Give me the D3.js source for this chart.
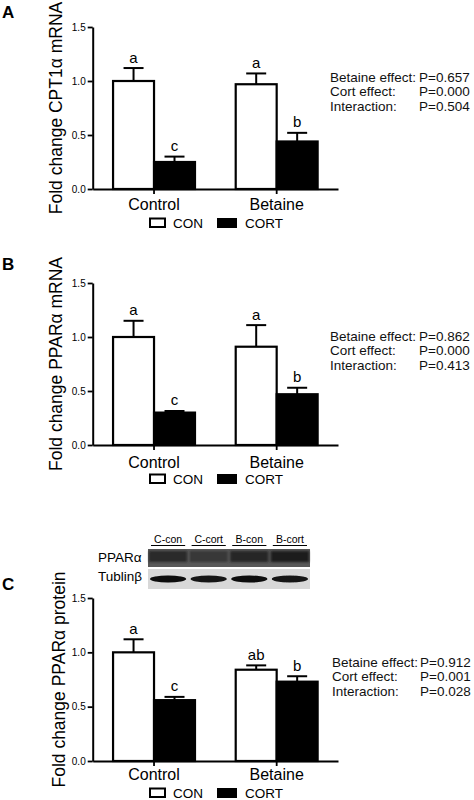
<!DOCTYPE html>
<html>
<head>
<meta charset="utf-8">
<script src="https://cdn.jsdelivr.net/npm/d3@7"></script>
<style>
  body { margin: 0; background: #fff; }
  svg { display: block; font-family: "Liberation Sans", Arial, sans-serif; }
</style>
</head>
<body>
<div id="chart"></div>
<script>
// groups on the x axis and the two treatments inside each group
const groups = ["Control", "Betaine"];
const treatments = ["CON", "CORT"];

// order: Control-CON, Control-CORT, Betaine-CON, Betaine-CORT
const cpt1Means = [1.00, 0.25, 0.97, 0.44];
const cpt1Errors = [0.12, 0.05, 0.10, 0.08];
const cpt1Letters = ["a", "c", "a", "b"];
const cpt1Pvalues = ["P=0.657", "P=0.000", "P=0.504"];

const pparMrnaMeans = [1.00, 0.30, 0.91, 0.47];
const pparMrnaErrors = [0.15, 0.015, 0.20, 0.06];
const pparMrnaLetters = ["a", "c", "a", "b"];
const pparMrnaPvalues = ["P=0.862", "P=0.000", "P=0.413"];

const pparProtMeans = [1.00, 0.56, 0.84, 0.73];
const pparProtErrors = [0.12, 0.03, 0.04, 0.05];
const pparProtLetters = ["a", "c", "ab", "b"];
const pparProtPvalues = ["P=0.912", "P=0.001", "P=0.028"];

const statLabels = ["Betaine effect:", "Cort effect:", "Interaction:"];
const yTicks = [0, 0.5, 1.0, 1.5];

// western blot inset (panel C)
const blotLanes = ["C-con", "C-cort", "B-con", "B-cort"];
const blotRows = ["PPARα", "Tublinβ"];
const pparBlotDensity = [0.86, 0.82, 0.88, 0.90];
const tubulinBlotDensity = [0.96, 0.92, 0.97, 0.94];

let width = 474, height = 800;

let svg = d3.select("#chart").append("svg")
    .attr("width", width)
    .attr("height", height);

let defs = svg.append("defs");
defs.append("filter").attr("id", "blur1").append("feGaussianBlur").attr("stdDeviation", 1.3);
defs.append("filter").attr("id", "blur2").append("feGaussianBlur").attr("stdDeviation", 0.7);

// panel layout
const panels = [
    {tag: "A", ylab: "Fold change CPT1α mRNA", means: cpt1Means, errs: cpt1Errors, letters: cpt1Letters, pvals: cpt1Pvalues,
     top: 27, bottom: 189, tagY: 18, ylabX: 62, xlabGap: 21, legGap: 29.5, statsX: 330, valX: 419, statsY: 82},
    {tag: "B", ylab: "Fold change PPARα mRNA", means: pparMrnaMeans, errs: pparMrnaErrors, letters: pparMrnaLetters, pvals: pparMrnaPvalues,
     top: 283, bottom: 445, tagY: 270, ylabX: 62, xlabGap: 23, legGap: 29.5, statsX: 330, valX: 419, statsY: 341},
    {tag: "C", ylab: "Fold change PPARα protein", means: pparProtMeans, errs: pparProtErrors, letters: pparProtLetters, pvals: pparProtPvalues,
     top: 598, bottom: 761, tagY: 590, ylabX: 65, xlabGap: 19, legGap: 27.5, statsX: 332, valX: 420, statsY: 667}
];

let xScale = d3.scaleBand().domain(groups).range([92.7, 338]).paddingInner(0.332).paddingOuter(0.166);
let tScale = d3.scaleBand().domain(treatments).range([0, xScale.bandwidth()]);

panels.forEach(p => {
    let g = svg.append("g");
    let yScale = d3.scaleLinear().domain([0, 1.5]).range([p.bottom, p.top]);

    let rows = [];
    groups.forEach((grp, i) => treatments.forEach((t, j) => {
        let k = i * 2 + j;
        rows.push({group: grp, treat: t, mean: p.means[k], err: p.errs[k], letter: p.letters[k]});
    }));

    // bars
    g.selectAll(".bar").data(rows).enter().append("rect")
        .attr("class", "bar")
        .attr("x", d => xScale(d.group) + tScale(d.treat))
        .attr("y", d => yScale(d.mean))
        .attr("width", tScale.bandwidth())
        .attr("height", d => yScale(0) - yScale(d.mean))
        .style("fill", d => d.treat === "CON" ? "#fff" : "#000")
        .style("stroke", "#000")
        .style("stroke-width", 2.2);

    // error bars (upper only)
    let eb = g.selectAll(".err").data(rows).enter().append("g").attr("class", "err")
        .attr("transform", d => `translate(${xScale(d.group) + tScale(d.treat) + tScale.bandwidth() / 2},0)`);
    eb.append("line")
        .attr("y1", d => yScale(d.mean)).attr("y2", d => yScale(d.mean + d.err))
        .style("stroke", "#000").style("stroke-width", 2);
    eb.append("line")
        .attr("x1", -10).attr("x2", 10)
        .attr("y1", d => yScale(d.mean + d.err)).attr("y2", d => yScale(d.mean + d.err))
        .style("stroke", "#000").style("stroke-width", 2);
    eb.append("text")
        .attr("y", d => yScale(d.mean + d.err) - 5.5)
        .attr("text-anchor", "middle")
        .style("font-size", "15px")
        .text(d => d.letter);

    // axes
    let yAxis = g.append("g").attr("transform", "translate(92.7,0)")
        .call(d3.axisLeft(yScale).tickValues(yTicks).tickFormat(d3.format(".1f")).tickSize(5).tickSizeOuter(0).tickPadding(2));
    yAxis.selectAll("text").style("font-size", "10px").style("font-family", "Liberation Sans, Arial, sans-serif");

    let xAxis = g.append("g").attr("transform", `translate(0,${p.bottom})`)
        .call(d3.axisBottom(xScale).tickSize(5).tickSizeOuter(0));
    xAxis.selectAll("text")
        .attr("y", p.xlabGap).attr("dy", null)
        .style("font-size", "16px").style("font-family", "Liberation Sans, Arial, sans-serif");

    [yAxis, xAxis].forEach(a => {
        a.select(".domain").style("stroke-width", 2);
        a.selectAll(".tick line").style("stroke-width", 1.8);
    });

    // y label
    g.append("text")
        .attr("transform", `translate(${p.ylabX},${(p.top + p.bottom) / 2}) rotate(-90)`)
        .attr("text-anchor", "middle")
        .style("font-size", "17.5px")
        .text(p.ylab);

    // panel tag
    g.append("text").attr("x", 2).attr("y", p.tagY)
        .style("font-size", "17px").style("font-weight", "bold")
        .text(p.tag);

    // legend
    let ly = p.bottom + p.legGap;
    g.append("rect").attr("x", 150).attr("y", ly).attr("width", 15).attr("height", 8.5)
        .style("fill", "#fff").style("stroke", "#000").style("stroke-width", 2);
    g.append("text").attr("x", 173).attr("y", ly + 9.5).style("font-size", "13.5px").text(treatments[0]);
    g.append("rect").attr("x", 217).attr("y", ly - 0.5).attr("width", 20).attr("height", 10)
        .style("fill", "#000");
    g.append("text").attr("x", 245).attr("y", ly + 9.5).style("font-size", "13.5px").text(treatments[1]);

    // stats
    let st = g.selectAll(".stat").data(statLabels).enter().append("g").attr("class", "stat");
    st.append("text").attr("x", p.statsX).attr("y", (d, i) => p.statsY + i * 14.3)
        .style("font-size", "13.5px").style("fill", "#111").text(d => d);
    st.append("text").attr("x", p.valX).attr("y", (d, i) => p.statsY + i * 14.3)
        .style("font-size", "13.5px").style("fill", "#111").text((d, i) => p.pvals[i]);
});

// blot inset above panel C
let blot = svg.append("g");
let laneScale = d3.scaleBand().domain(blotLanes).range([149, 309]).paddingInner(0.06);

blot.append("rect").attr("x", 148).attr("y", 549).attr("width", 162).attr("height", 18).style("fill", "#585858");
blot.selectAll(".pband").data(blotLanes).enter().append("rect")
    .attr("x", d => laneScale(d)).attr("y", 551)
    .attr("width", laneScale.bandwidth()).attr("height", 11)
    .style("fill", (d, i) => d3.interpolateGreys(pparBlotDensity[i]))
    .attr("filter", "url(#blur1)");

blot.append("rect").attr("x", 148).attr("y", 569).attr("width", 162).attr("height", 20).style("fill", "#d8d8d8");
blot.selectAll(".tband").data(blotLanes).enter().append("ellipse")
    .attr("cx", d => laneScale(d) + laneScale.bandwidth() / 2).attr("cy", 579)
    .attr("rx", laneScale.bandwidth() / 2 - 1).attr("ry", 3.4)
    .style("fill", (d, i) => d3.interpolateGreys(tubulinBlotDensity[i]))
    .attr("filter", "url(#blur2)");

blot.selectAll(".lane").data(blotLanes).enter().append("text")
    .attr("x", d => laneScale(d) + laneScale.bandwidth() / 2).attr("y", 543)
    .attr("text-anchor", "middle").style("font-size", "10.5px").text(d => d);
blot.selectAll(".uline").data(blotLanes).enter().append("line")
    .attr("x1", d => laneScale(d) + 2).attr("x2", d => laneScale(d) + laneScale.bandwidth() - 2)
    .attr("y1", 545.5).attr("y2", 545.5)
    .style("stroke", "#000").style("stroke-width", 1);

blot.selectAll(".rowlab").data(blotRows).enter().append("text")
    .attr("x", 98).attr("y", (d, i) => 562 + i * 19)
    .style("font-size", "13.5px").text(d => d);
</script>
</body>
</html>
